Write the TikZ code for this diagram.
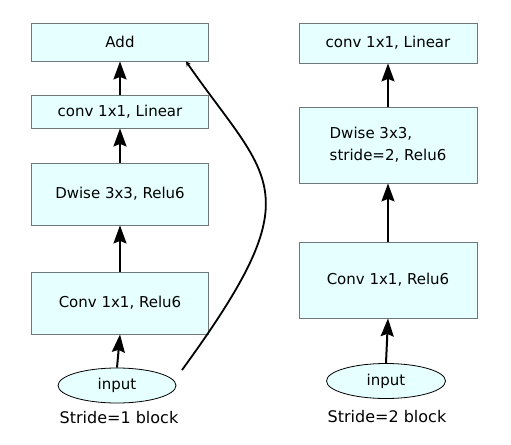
\documentclass[tikz,border=0pt]{standalone}
\usepackage{fontspec}
\setmainfont{DejaVu Sans}
\usetikzlibrary{arrows.meta,shapes.geometric}
\definecolor{boxfill}{RGB}{230,255,255}
\definecolor{boxline}{RGB}{110,120,120}
\begin{document}
\begin{tikzpicture}[x=1bp,y=-1bp,
  blk/.style={draw=boxline,line width=0.8bp,fill=boxfill,minimum width=177bp,inner sep=0pt,font=\fontsize{15bp}{22bp}\selectfont},
  inp/.style={draw=black,line width=0.8bp,fill=boxfill,ellipse,minimum width=118bp,minimum height=35bp,inner sep=0pt,font=\fontsize{15bp}{18bp}\selectfont},
  lbl/.style={font=\fontsize{16bp}{19bp}\selectfont},
  flow/.style={line width=2bp,-{Stealth[length=18bp,width=13bp,inset=2.5bp]}},
  skip/.style={line width=1.8bp,-{Stealth[length=5bp,width=5bp]}}]
\useasboundingbox (0,0) rectangle (511,445);
% left column
\node[blk,minimum height=38bp] (add) at (120,42) {Add};
\node[blk,minimum height=33bp] (lin1) at (120,111.5) {conv 1x1, Linear};
\node[blk,minimum height=62bp] (dw1) at (120,194) {Dwise 3x3, Relu6};
\node[blk,minimum height=62bp] (cv1) at (120,303) {Conv 1x1, Relu6};
\node[inp] (in1) at (117,385.5) {input};
\node[lbl] (l1) at (119,418) {Stride=1 block};
% right column
\node[blk,minimum width=178bp,minimum height=40bp] (lin2) at (388,43) {conv 1x1, Linear};
\node[blk,minimum width=178bp,minimum height=76bp,align=left] (dw2) at (388,145) {Dwise 3x3,\\stride=2, Relu6};
\node[blk,minimum width=178bp,minimum height=76bp] (cv2) at (388,280) {Conv 1x1, Relu6};
\node[inp,minimum width=119bp] (in2) at (386,381) {input};
\node[lbl] (l2) at (387,417) {Stride=2 block};
% arrows
\draw[flow] (in1.north) -- (cv1.south);
\draw[flow] (cv1.north) -- (dw1.south);
\draw[flow] (dw1.north) -- (lin1.south);
\draw[flow] (lin1.north) -- (add.south);
\draw[flow] (in2.north) -- (cv2.south);
\draw[flow] (cv2.north) -- (dw2.south);
\draw[flow] (dw2.north) -- (lin2.south);
% skip connection
\coordinate (cs) at (182,370);
\coordinate (ce) at ([xshift=66bp]add.south);
\draw[skip] (cs) .. controls (314,189) and (270,182) .. (ce);
\end{tikzpicture}
\end{document}
